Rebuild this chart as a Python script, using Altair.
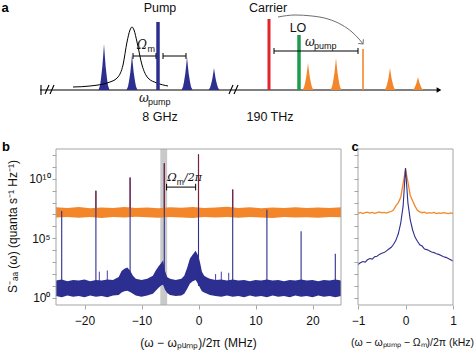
import altair as alt
import pandas as pd

FONT = "Liberation Sans"
BLUE = "#2c2f8f"
ORANGE = "#f3862a"
RED = "#e2242b"
GREEN = "#1e9c4b"
DARKRED = "#7e2236"
FRAME = "#a5a5a5"
BAND = "#c9c9c9"
ARROW = "#6e6e6e"

# ================= panel a : schematic spectrum (arbitrary units) =================
blue_peak_pos = [64, 92, 147, 174]
blue_peak_height = [46, 35, 33, 22]
orange_peak_pos = [268, 296, 350, 378]
orange_peak_height = [27, 32, 22, 13]
peak_offsets = [-5.5, -4, -3, -1.7, -0.8, 0, 0.8, 1.7, 3, 4, 5.5]
peak_profile = [0, 0.1, 0.25, 0.5, 0.75, 1, 0.75, 0.5, 0.25, 0.1, 0]

tone_pos = [118, 229, 259, 323]
tone_height = [68, 71, 55, 41]
tone_color = [BLUE, RED, GREEN, ORANGE]
tone_width = [3.5, 3.0, 3.5, 1.6]

lorentz_u = [33, 50, 70, 78, 83, 87, 90, 92, 94, 97, 102, 108, 117, 128]
lorentz_amp = [3, 4, 8, 13, 25, 48, 60, 63, 60, 48, 25, 12, 7, 4]

arc_u = [238, 255, 272, 288, 302, 312, 319, 323]
arc_amp = [73, 75, 74, 71, 65, 58, 51, 46]

axis_end = 397
break_u1 = [1, 5, 10, 189, 194]
break_a1 = [-5, -4, -4, -4, -4]
break_u2 = [1, 9, 14, 193, 198]
break_a2 = [5, 5, 5, 5, 5]

bracket_u1 = [93, 123, 234]
bracket_u2 = [116, 146, 318]
bracket_amp = [34, 34, 39]

label_text = ["Pump", "Carrier", "LO", "8 GHz", "190 THz"]
label_u = [120, 228, 258, 120, 230]
label_amp = [82, 82.5, 62.5, -26.5, -26.5]
greek_text = ["ω", "Ω", "ω"]
greek_u = [104, 102, 270]
greek_amp = [-8, 45, 48]
sub_text = ["pump", "m", "pump"]
sub_u = [108, 107.5, 274]
sub_amp = [-12, 41, 44]
panel_letters = ["a", "b", "c"]
letter_u = [-35, -34, 315]
letter_amp = [82.5, -57, -57]

# ================= panel b : spectrum vs (w - w_pump)/2pi, MHz =================
orange_x = [-25, -23, -21, -19, -17, -15, -13, -11, -9, -7, -5, -3, -1,
            1, 3, 5, 7, 9, 11, 13, 15, 17, 19, 21, 23, 25]
orange_hi = [7.60, 7.55, 7.62, 7.52, 7.58, 7.55, 7.63, 7.54, 7.58, 7.52, 7.60, 7.56, 7.62,
             7.55, 7.58, 7.66, 7.55, 7.60, 7.53, 7.58, 7.55, 7.61, 7.54, 7.58, 7.55, 7.60]
orange_lo = [6.75, 6.80, 6.72, 6.78, 6.70, 6.80, 6.74, 6.82, 6.76, 6.72, 6.80, 6.75, 6.70,
             6.78, 6.74, 6.80, 6.72, 6.78, 6.75, 6.70, 6.80, 6.74, 6.77, 6.72, 6.80, 6.76]

blue_x = [-25, -24, -23, -22, -21, -20, -19, -18, -17, -16, -15, -14, -13.5, -13, -12.5,
          -12, -11.5, -11, -10, -9, -8, -7.5, -7, -6.5, -6.2, -5.9, -5.5, -5, -4, -3,
          -2.5, -2, -1.5, -1, -0.5, 0, 0.3, 0.6, 1, 1.5, 2, 3, 4, 5, 6, 7, 8, 9, 10,
          11, 12, 13, 14, 15, 16, 17, 18, 19, 20, 21, 22, 23, 24, 25]
blue_hi = [1.45, 1.55, 1.40, 1.50, 1.45, 1.55, 1.40, 1.50, 1.45, 1.55, 1.50, 1.75, 2.25, 2.45, 2.55,
           2.30, 1.85, 1.60, 1.50, 1.60, 1.85, 2.30, 2.65, 2.95, 3.15, 2.30, 1.75, 1.60, 1.50, 1.60,
           1.85, 2.50, 3.30, 3.65, 3.95, 3.50, 2.90, 2.20, 1.85, 1.70, 1.60, 1.50, 1.55, 1.45, 1.55,
           1.45, 1.50, 1.40, 1.50, 1.45, 1.55, 1.45, 1.50, 1.40, 1.50, 1.45, 1.55, 1.45, 1.50, 1.40,
           1.50, 1.45, 1.55, 1.45]
blue_lo = [0.15, 0.05, 0.20, 0.10, 0.15, 0.05, 0.20, 0.10, 0.15, 0.05, 0.20, 0.25, 0.45, 0.55, 0.60,
           0.50, 0.35, 0.20, 0.10, 0.20, 0.35, 0.60, 0.85, 1.05, 1.10, 0.70, 0.40, 0.25, 0.15, 0.20,
           0.35, 0.75, 1.20, 1.40, 1.50, 1.10, 0.80, 0.55, 0.45, 0.35, 0.25, 0.15, 0.10, 0.20, 0.10,
           0.15, 0.05, 0.20, 0.10, 0.15, 0.05, 0.20, 0.10, 0.15, 0.05, 0.20, 0.10, 0.15, 0.05, 0.20,
           0.10, 0.15, 0.05, 0.15]

spike_x = [-24, -18, -12, -6, 0, 6, 12, 18, 24]
spike_top = [7.3, 9.0, 10.1, 11.3, 12.05, 9.1, 7.4, 5.6, 3.7]
small_spike_x = [-17.4, -16.0, 3.0, 4.0, 5.3]
small_spike_top = [2.2, 2.3, 2.0, 2.2, 2.1]
dark_spike_x = [-18, -12, -6, 0, 6]
dark_spike_top = [9.0, 10.1, 11.3, 12.05, 9.1]
highlight_band = [-6.7, -5.5]
om_bracket = [-5.6, -0.5]
om_bracket_level = 9.3

# ================= panel c : zoom on mechanical sideband, kHz =================
c_x = [-1.00, -0.95, -0.90, -0.85, -0.80, -0.75, -0.70, -0.65, -0.60, -0.55, -0.50,
       -0.45, -0.40, -0.35, -0.30, -0.25, -0.20, -0.15, -0.10, -0.05, 0.00,
       0.05, 0.10, 0.15, 0.20, 0.25, 0.30, 0.35, 0.40, 0.45, 0.50,
       0.55, 0.60, 0.65, 0.70, 0.75, 0.80, 0.85, 0.90, 0.95, 1.00]
c_orange = [7.10, 7.18, 7.08, 7.15, 7.20, 7.12, 7.17, 7.10, 7.16, 7.22, 7.14,
            7.18, 7.12, 7.20, 7.25, 7.40, 7.75, 8.00, 8.45, 9.60, 10.80,
            9.75, 8.60, 8.15, 7.70, 7.35, 7.22, 7.15, 7.20, 7.10, 7.16,
            7.12, 7.18, 7.08, 7.14, 7.10, 7.16, 7.12, 7.08, 7.14, 7.10]
c_blue = [2.80, 2.95, 3.05, 3.00, 3.20, 3.30, 3.25, 3.45, 3.50, 3.65, 3.75,
          3.80, 3.95, 4.10, 4.25, 4.50, 4.85, 5.40, 6.30, 7.70, 10.90,
          8.00, 6.55, 5.70, 5.10, 4.75, 4.45, 4.35, 4.10, 4.05, 3.95,
          3.85, 3.80, 3.70, 3.65, 3.55, 3.45, 3.40, 3.30, 3.20, 3.10]

y_exp_min, y_exp_max = -0.6, 12.5

# ================= scales =================
XA = alt.Scale(domain=[0, 400], range=[40, 440], nice=False, zero=False)
YA = alt.Scale(domain=[0, 70], range=[90, 20], nice=False, zero=False)
XB = alt.Scale(domain=[-25, 25], range=[56, 341], nice=False, zero=False)
XC = alt.Scale(domain=[-1, 1], range=[358, 453], nice=False, zero=False)
YL = alt.Scale(type="log", domain=[10 ** y_exp_min, 10 ** y_exp_max], range=[305, 149], nice=False)


def xa(f):
    return alt.X(f, type="quantitative", scale=XA, axis=None)


def ya(f):
    return alt.Y(f, type="quantitative", scale=YA, axis=None)


def xb(f):
    return alt.X(f, type="quantitative", scale=XB, axis=None)


def xc(f):
    return alt.X(f, type="quantitative", scale=XC, axis=None)


def yl(f):
    return alt.Y(f, type="quantitative", scale=YL, axis=None)


def p10(v):
    return 10 ** v


layers = []

# ---------- panel a ----------
layers.append(alt.Chart(pd.DataFrame({"u": [0], "u2": [axis_end], "a": [0]}))
              .mark_rule(color="black", strokeWidth=1)
              .encode(x=xa("u"), x2="u2", y=ya("a")))
layers.append(alt.Chart(pd.DataFrame({"u": [axis_end + 2], "a": [0]}))
              .mark_point(shape="triangle-right", filled=True, size=30, color="black", opacity=1)
              .encode(x=xa("u"), y=ya("a")))
layers.append(alt.Chart(pd.DataFrame({"u": break_u1, "a": break_a1, "u2": break_u2, "a2": break_a2}))
              .mark_rule(color="black", strokeWidth=1.1)
              .encode(x=xa("u"), y=ya("a"), x2="u2", y2="a2"))

rows = []
for i, (p, h) in enumerate(zip(blue_peak_pos, blue_peak_height)):
    for o, f in zip(peak_offsets, peak_profile):
        rows.append({"pid": "b%d" % i, "u": p + o, "amp": h * f, "base": 0})
layers.append(alt.Chart(pd.DataFrame(rows)).mark_area(color=BLUE, opacity=1)
              .encode(x=xa("u"), y=ya("amp"), y2="base", detail="pid:N"))
rows = []
for i, (p, h) in enumerate(zip(orange_peak_pos, orange_peak_height)):
    for o, f in zip(peak_offsets, peak_profile):
        rows.append({"pid": "o%d" % i, "u": p + o, "amp": h * f, "base": 0})
layers.append(alt.Chart(pd.DataFrame(rows)).mark_area(color=ORANGE, opacity=1)
              .encode(x=xa("u"), y=ya("amp"), y2="base", detail="pid:N"))

layers.append(alt.Chart(pd.DataFrame({"u": lorentz_u, "amp": lorentz_amp}))
              .mark_line(color="black", strokeWidth=1, interpolate="monotone")
              .encode(x=xa("u"), y=ya("amp")))

layers.append(alt.Chart(pd.DataFrame({"u": tone_pos, "h": tone_height, "base": [0] * 4,
                                      "c": tone_color, "w": tone_width}))
              .mark_rule(strokeCap="butt")
              .encode(x=xa("u"), y=ya("base"), y2="h",
                      color=alt.Color("c:N", scale=None),
                      strokeWidth=alt.StrokeWidth("w:Q", scale=None)))

brows = []
for u1, u2, a in zip(bracket_u1, bracket_u2, bracket_amp):
    brows.append({"u": u1, "a": a, "u2": u2, "a2": a})
    brows.append({"u": u1, "a": a - 3, "u2": u1, "a2": a + 3})
    brows.append({"u": u2, "a": a - 3, "u2": u2, "a2": a + 3})
layers.append(alt.Chart(pd.DataFrame(brows)).mark_rule(color="black", strokeWidth=1)
              .encode(x=xa("u"), y=ya("a"), x2="u2", y2="a2"))

layers.append(alt.Chart(pd.DataFrame({"u": arc_u, "amp": arc_amp}))
              .mark_line(color=ARROW, strokeWidth=1, interpolate="monotone")
              .encode(x=xa("u"), y=ya("amp")))
layers.append(alt.Chart(pd.DataFrame({"u": [arc_u[-1]], "amp": [arc_amp[-1]]}))
              .mark_point(shape="M-1,-1L0,0L1,-1", filled=False, size=45, angle=320,
                          color=ARROW, strokeWidth=1, opacity=1)
              .encode(x=xa("u"), y=ya("amp")))

layers.append(alt.Chart(pd.DataFrame({"u": label_u, "amp": label_amp, "t": label_text}))
              .mark_text(font=FONT, fontSize=12.5, color="#111", align="center", baseline="middle")
              .encode(x=xa("u"), y=ya("amp"), text="t:N"))
layers.append(alt.Chart(pd.DataFrame({"u": greek_u, "amp": greek_amp, "t": greek_text}))
              .mark_text(font="DejaVu Serif", fontSize=12, fontStyle="italic", color="#111",
                         align="center", baseline="middle")
              .encode(x=xa("u"), y=ya("amp"), text="t:N"))
layers.append(alt.Chart(pd.DataFrame({"u": sub_u, "amp": sub_amp, "t": sub_text}))
              .mark_text(font=FONT, fontSize=9, color="#111", align="left", baseline="middle")
              .encode(x=xa("u"), y=ya("amp"), text="t:N"))
layers.append(alt.Chart(pd.DataFrame({"u": letter_u, "amp": letter_amp, "t": panel_letters}))
              .mark_text(font=FONT, fontSize=13, fontWeight="bold", color="black",
                         align="center", baseline="middle")
              .encode(x=xa("u"), y=ya("amp"), text="t:N"))

# ---------- panel b ----------
layers.append(alt.Chart(pd.DataFrame({"x": [highlight_band[0]], "x2": [highlight_band[1]],
                                      "y": [p10(y_exp_min)], "y2": [p10(y_exp_max)]}))
              .mark_rect(color=BAND, opacity=1)
              .encode(x=xb("x"), x2="x2", y=yl("y"), y2="y2"))
layers.append(alt.Chart(pd.DataFrame({"x": orange_x, "hi": [p10(v) for v in orange_hi],
                                      "lo": [p10(v) for v in orange_lo]}))
              .mark_area(color=ORANGE, opacity=1)
              .encode(x=xb("x"), y=yl("hi"), y2="lo"))
layers.append(alt.Chart(pd.DataFrame({"x": blue_x, "hi": [p10(v) for v in blue_hi],
                                      "lo": [p10(v) for v in blue_lo]}))
              .mark_area(color=BLUE, opacity=1)
              .encode(x=xb("x"), y=yl("hi"), y2="lo"))
layers.append(alt.Chart(pd.DataFrame({"x": spike_x, "top": [p10(v) for v in spike_top],
                                      "base": [p10(1.0)] * len(spike_x)}))
              .mark_rule(color=BLUE, strokeWidth=1.1)
              .encode(x=xb("x"), y=yl("base"), y2="top"))
layers.append(alt.Chart(pd.DataFrame({"x": small_spike_x, "top": [p10(v) for v in small_spike_top],
                                      "base": [p10(1.0)] * len(small_spike_x)}))
              .mark_rule(color=BLUE, strokeWidth=0.9)
              .encode(x=xb("x"), y=yl("base"), y2="top"))
layers.append(alt.Chart(pd.DataFrame({"x": dark_spike_x, "top": [p10(v) for v in dark_spike_top],
                                      "base": [p10(7.55)] * len(dark_spike_x)}))
              .mark_rule(color=DARKRED, strokeWidth=1.1)
              .encode(x=xb("x"), y=yl("base"), y2="top"))
orows = [
    {"x": om_bracket[0], "x2": om_bracket[1], "y": p10(om_bracket_level), "y2": p10(om_bracket_level)},
    {"x": om_bracket[0], "x2": om_bracket[0], "y": p10(om_bracket_level - 0.28), "y2": p10(om_bracket_level + 0.28)},
    {"x": om_bracket[1], "x2": om_bracket[1], "y": p10(om_bracket_level - 0.28), "y2": p10(om_bracket_level + 0.28)},
]
layers.append(alt.Chart(pd.DataFrame(orows)).mark_rule(color="black", strokeWidth=1)
              .encode(x=xb("x"), x2="x2", y=yl("y"), y2="y2"))
layers.append(alt.Chart(pd.DataFrame({"x": [-4.65], "y": [p10(10.07)], "t": ["Ω"]}))
              .mark_text(font="DejaVu Serif", fontSize=11.5, fontStyle="italic", color="#111",
                         align="center", baseline="middle")
              .encode(x=xb("x"), y=yl("y"), text="t:N"))
layers.append(alt.Chart(pd.DataFrame({"x": [-3.8], "y": [p10(9.72)], "t": ["m"]}))
              .mark_text(font=FONT, fontSize=8.5, color="#111", align="left", baseline="middle")
              .encode(x=xb("x"), y=yl("y"), text="t:N"))
layers.append(alt.Chart(pd.DataFrame({"x": [-2.55], "y": [p10(10.07)], "t": ["/2π"]}))
              .mark_text(font="DejaVu Serif", fontSize=11, fontStyle="italic", color="#111",
                         align="left", baseline="middle")
              .encode(x=xb("x"), y=yl("y"), text="t:N"))

decades = [10 ** i for i in range(13)]
label_expr = ("datum.value == 1 ? '10⁰' : datum.value == 100000 ? '10⁵' : "
              "datum.value == 10000000000 ? '10¹⁰' : ''")
c_label_expr = "datum.value == 0 ? '0' : (datum.value < 0 ? '−1' : '1')"

common_axis = dict(domain=False, grid=False, tickSize=4, tickColor=FRAME, tickWidth=1,
                   labelFont=FONT, labelFontSize=12, labelColor="#111", labelOverlap=False,
                   titleFont=FONT, titleFontWeight="normal", titleColor="#111")

xb_axis = alt.Axis(orient="bottom", values=[-20, -10, 0, 10, 20], labelPadding=6, format="d",
                   title="(ω − ωₚᵤₘₚ)/2π (MHz)", titleX=198, titleY=37, titleFontSize=12,
                   titleBaseline="middle", titleAlign="center", **common_axis)
yb_axis = alt.Axis(orient="left", offset=-56, values=decades, labelExpr=label_expr,
                   labelPadding=2, titleFontSize=12,
                   title="S⁻ₐₐ (ω) (quanta s⁻¹ Hz⁻¹)", titleX=-44, titleY=226, titleAngle=270,
                   titleBaseline="middle", titleAlign="center", **common_axis)
frame_b = pd.DataFrame({"x": [-25], "x2": [25], "y": [p10(y_exp_min)], "y2": [p10(y_exp_max)]})
layers.append(alt.Chart(frame_b).mark_rect(fillOpacity=0, stroke=FRAME, strokeWidth=1)
              .encode(x=alt.X("x:Q", scale=XB, axis=xb_axis), x2="x2",
                      y=alt.Y("y:Q", scale=YL, axis=yb_axis), y2="y2"))

# ---------- panel c ----------
layers.append(alt.Chart(pd.DataFrame({"x": c_x, "v": [p10(v) for v in c_orange]}))
              .mark_line(color=ORANGE, strokeWidth=1.3)
              .encode(x=xc("x"), y=yl("v")))
layers.append(alt.Chart(pd.DataFrame({"x": c_x, "v": [p10(v) for v in c_blue]}))
              .mark_line(color=BLUE, strokeWidth=1.1)
              .encode(x=xc("x"), y=yl("v")))
xc_axis = alt.Axis(orient="bottom", values=[-1, 0, 1], labelPadding=6, labelExpr=c_label_expr,
                   labelFlush=False,
                   title="(ω − ωₚᵤₘₚ − Ωₘ)/2π (kHz)", titleX=412, titleY=37, titleFontSize=10.5,
                   titleBaseline="middle", titleAlign="center", **common_axis)
yc_axis = alt.Axis(orient="left", offset=-358, values=decades, labels=False, title="",
                   **common_axis)
frame_c = pd.DataFrame({"x": [-1], "x2": [1], "y": [p10(y_exp_min)], "y2": [p10(y_exp_max)]})
layers.append(alt.Chart(frame_c).mark_rect(fillOpacity=0, stroke=FRAME, strokeWidth=1)
              .encode(x=alt.X("x:Q", scale=XC, axis=xc_axis), x2="x2",
                      y=alt.Y("y:Q", scale=YL, axis=yc_axis), y2="y2"))

chart = (alt.layer(*layers)
         .resolve_scale(x="independent", y="independent")
         .properties(width=474, height=305,
                     padding={"left": 0, "top": 0, "right": 0, "bottom": 45},
                     autosize=alt.AutoSizeParams(type="none"))
         .configure_view(strokeWidth=0))

chart.save("out.html", embed_options={"renderer": "svg", "actions": False})
